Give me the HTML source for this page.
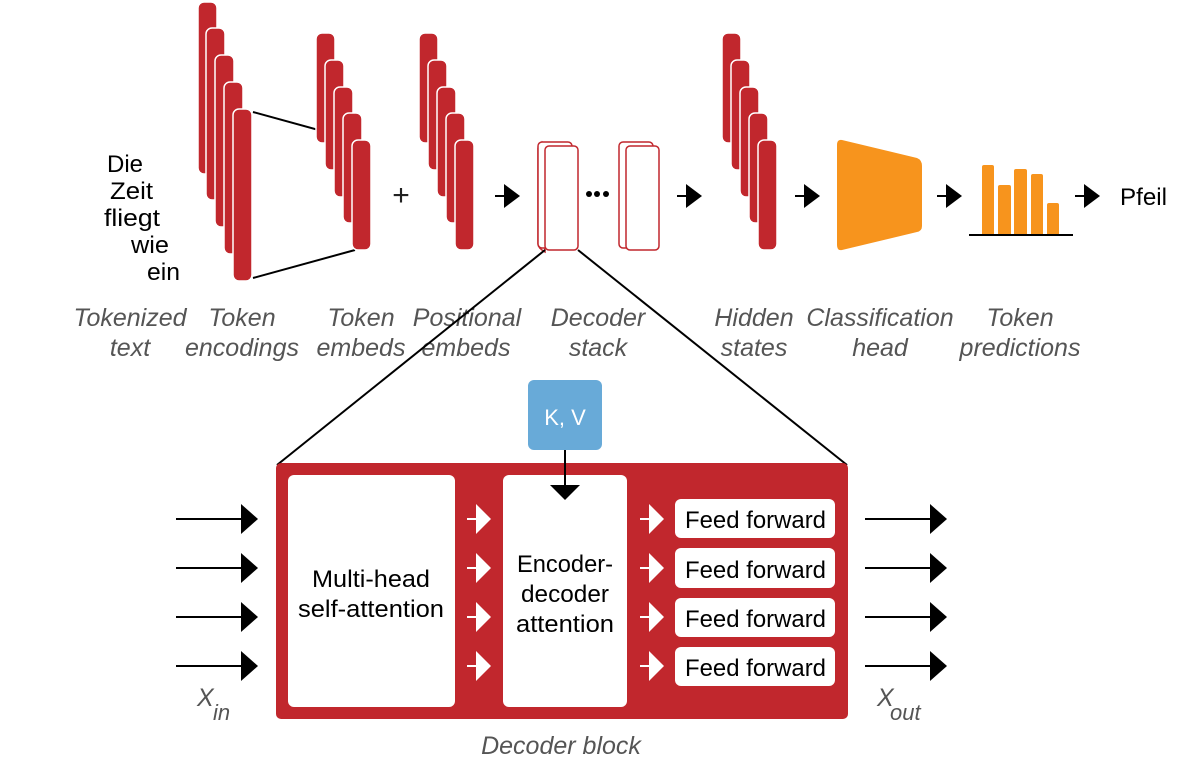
<!DOCTYPE html>
<html><head><meta charset="utf-8"><style>
html,body{margin:0;padding:0;background:#fff}
svg{display:block}
.lab{font-family:"Liberation Sans",sans-serif;font-style:italic;fill:#555;font-size:25px}
.bt{font-family:"Liberation Sans",sans-serif;fill:#000;font-size:24px}
</style></head><body>
<svg width="1188" height="765" viewBox="0 0 1188 765" xmlns="http://www.w3.org/2000/svg">
<defs>
<g id="arr"><line x1="0" y1="0" x2="12" y2="0" stroke="#000" stroke-width="2"/><polygon points="9,-12 25,0 9,12" fill="#000"/></g>
<g id="warr"><line x1="0" y1="0" x2="10" y2="0" stroke="#fff" stroke-width="2"/><polygon points="9,-15 24,0 9,15" fill="#fff"/></g>
<g id="larr"><line x1="0" y1="0" x2="70" y2="0" stroke="#000" stroke-width="2"/><polygon points="65,-15 82,0 65,15" fill="#000"/></g>
</defs>
<!-- token encodings -->
<g fill="#c1272d" stroke="#fff" stroke-width="1.5">
<rect x="198" y="2" width="19" height="172" rx="6"/>
<rect x="206" y="28" width="19" height="172" rx="6"/>
<rect x="215" y="55" width="19" height="172" rx="6"/>
<rect x="224" y="82" width="19" height="172" rx="6"/>
<rect x="233" y="109" width="19" height="172" rx="6"/>
</g>
<line x1="253" y1="112" x2="355" y2="140" stroke="#000" stroke-width="2"/>
<line x1="253" y1="278" x2="355" y2="250" stroke="#000" stroke-width="2"/>
<!-- embeds groups -->
<g id="emb" fill="#c1272d" stroke="#fff" stroke-width="1.5">
<rect x="316" y="33" width="19" height="110" rx="6"/>
<rect x="325" y="60" width="19" height="110" rx="6"/>
<rect x="334" y="87" width="19" height="110" rx="6"/>
<rect x="343" y="113" width="19" height="110" rx="6"/>
<rect x="352" y="140" width="19" height="110" rx="6"/>
</g>
<use href="#emb" x="103"/>
<use href="#emb" x="406"/>
<text x="401" y="205" font-family="Liberation Sans" font-size="30" text-anchor="middle" fill="#222">+</text>
<!-- decoder stack -->
<g fill="#fff" stroke="#c1272d" stroke-width="1.5">
<path d="M538,148 L538,244 Q538,248 545,252 L545,146 L542,142 Z"/>
<rect x="538" y="142" width="34" height="106" rx="4"/>
<rect x="545" y="146" width="33" height="104" rx="4"/>
<rect x="619" y="142" width="34" height="106" rx="4"/>
<rect x="626" y="146" width="33" height="104" rx="4"/>
</g>
<circle cx="589" cy="194" r="3"/><circle cx="597" cy="194" r="3"/><circle cx="606" cy="194" r="3"/>
<use href="#arr" x="495" y="196"/>
<use href="#arr" x="677" y="196"/>
<use href="#arr" x="795" y="196"/>
<use href="#arr" x="937" y="196"/>
<use href="#arr" x="1075" y="196"/>
<!-- classification head -->
<path d="M842,140 L917,158 Q922,160 922,166 L922,226 Q922,231 917,232 L842,250 Q837,251 837,245 L837,145 Q837,139 842,140 Z" fill="#f7941d"/>
<g fill="#f7941d">
<rect x="982" y="165" width="12" height="71" rx="2"/>
<rect x="998" y="185" width="13" height="51" rx="2"/>
<rect x="1014" y="169" width="13" height="67" rx="2"/>
<rect x="1031" y="174" width="12" height="62" rx="2"/>
<rect x="1047" y="203" width="12" height="33" rx="2"/>
</g>
<line x1="969" y1="235" x2="1073" y2="235" stroke="#000" stroke-width="2"/>
<text x="1120" y="205" class="bt" textLength="47" lengthAdjust="spacingAndGlyphs">Pfeil</text>
<!-- input words -->
<g class="bt">
<text x="107" y="172" textLength="36" lengthAdjust="spacingAndGlyphs">Die</text>
<text x="110" y="199" textLength="43" lengthAdjust="spacingAndGlyphs">Zeit</text>
<text x="104" y="226" textLength="56" lengthAdjust="spacingAndGlyphs">fliegt</text>
<text x="131" y="253" textLength="38" lengthAdjust="spacingAndGlyphs">wie</text>
<text x="147" y="280" textLength="33" lengthAdjust="spacingAndGlyphs">ein</text>
</g>
<!-- labels -->
<g class="lab" text-anchor="middle">
<text x="130" y="326">Tokenized</text><text x="130" y="356">text</text>
<text x="242" y="326">Token</text><text x="242" y="356">encodings</text>
<text x="361" y="326">Token</text><text x="361" y="356">embeds</text>
<text x="467" y="326">Positional</text><text x="466" y="356">embeds</text>
<text x="598" y="326">Decoder</text><text x="598" y="356">stack</text>
<text x="754" y="326">Hidden</text><text x="754" y="356">states</text>
<text x="880" y="326">Classification</text><text x="880" y="356">head</text>
<text x="1020" y="326">Token</text><text x="1020" y="356">predictions</text>
<text x="561" y="754">Decoder block</text>
</g>
<!-- zoom lines -->
<line x1="545" y1="250" x2="277" y2="465" stroke="#000" stroke-width="2"/>
<line x1="578" y1="250" x2="847" y2="465" stroke="#000" stroke-width="2"/>
<!-- decoder block -->
<rect x="276" y="463" width="572" height="256" rx="5" fill="#c1272d"/>
<rect x="288" y="475" width="167" height="232" rx="6" fill="#fff"/>
<rect x="503" y="475" width="124" height="232" rx="6" fill="#fff"/>
<g fill="#fff">
<rect x="675" y="499" width="160" height="39" rx="6"/>
<rect x="675" y="548" width="160" height="40" rx="6"/>
<rect x="675" y="598" width="160" height="39" rx="6"/>
<rect x="675" y="647" width="160" height="39" rx="6"/>
</g>
<g class="bt">
<text x="371" y="587" text-anchor="middle" textLength="118" lengthAdjust="spacingAndGlyphs">Multi-head</text>
<text x="371" y="617" text-anchor="middle" textLength="146" lengthAdjust="spacingAndGlyphs">self-attention</text>
<text x="565" y="572" text-anchor="middle" textLength="96" lengthAdjust="spacingAndGlyphs">Encoder-</text>
<text x="565" y="602" text-anchor="middle" textLength="88" lengthAdjust="spacingAndGlyphs">decoder</text>
<text x="565" y="632" text-anchor="middle" textLength="98" lengthAdjust="spacingAndGlyphs">attention</text>
<text x="685" y="528" textLength="141" lengthAdjust="spacingAndGlyphs">Feed forward</text>
<text x="685" y="578" textLength="141" lengthAdjust="spacingAndGlyphs">Feed forward</text>
<text x="685" y="627" textLength="141" lengthAdjust="spacingAndGlyphs">Feed forward</text>
<text x="685" y="676" textLength="141" lengthAdjust="spacingAndGlyphs">Feed forward</text>
</g>
<use href="#warr" x="467" y="519"/><use href="#warr" x="467" y="568"/><use href="#warr" x="467" y="617"/><use href="#warr" x="467" y="666"/>
<use href="#warr" x="640" y="519"/><use href="#warr" x="640" y="568"/><use href="#warr" x="640" y="617"/><use href="#warr" x="640" y="666"/>
<use href="#larr" x="176" y="519"/><use href="#larr" x="176" y="568"/><use href="#larr" x="176" y="617"/><use href="#larr" x="176" y="666"/>
<use href="#larr" x="865" y="519"/><use href="#larr" x="865" y="568"/><use href="#larr" x="865" y="617"/><use href="#larr" x="865" y="666"/>
<!-- K,V -->
<rect x="528" y="380" width="74" height="70" rx="6" fill="#68aad8"/>
<text x="565" y="425" text-anchor="middle" font-family="Liberation Sans" font-size="22" fill="#fff">K, V</text>
<line x1="565" y1="450" x2="565" y2="488" stroke="#000" stroke-width="2"/>
<polygon points="550,485 580,485 565,500" fill="#000"/>
<!-- X labels -->
<g class="lab"><text x="197" y="706">X</text><text x="213" y="720" font-size="22">in</text>
<text x="877" y="706">X</text><text x="890" y="720" font-size="22">out</text></g>
</svg>
</body></html>
